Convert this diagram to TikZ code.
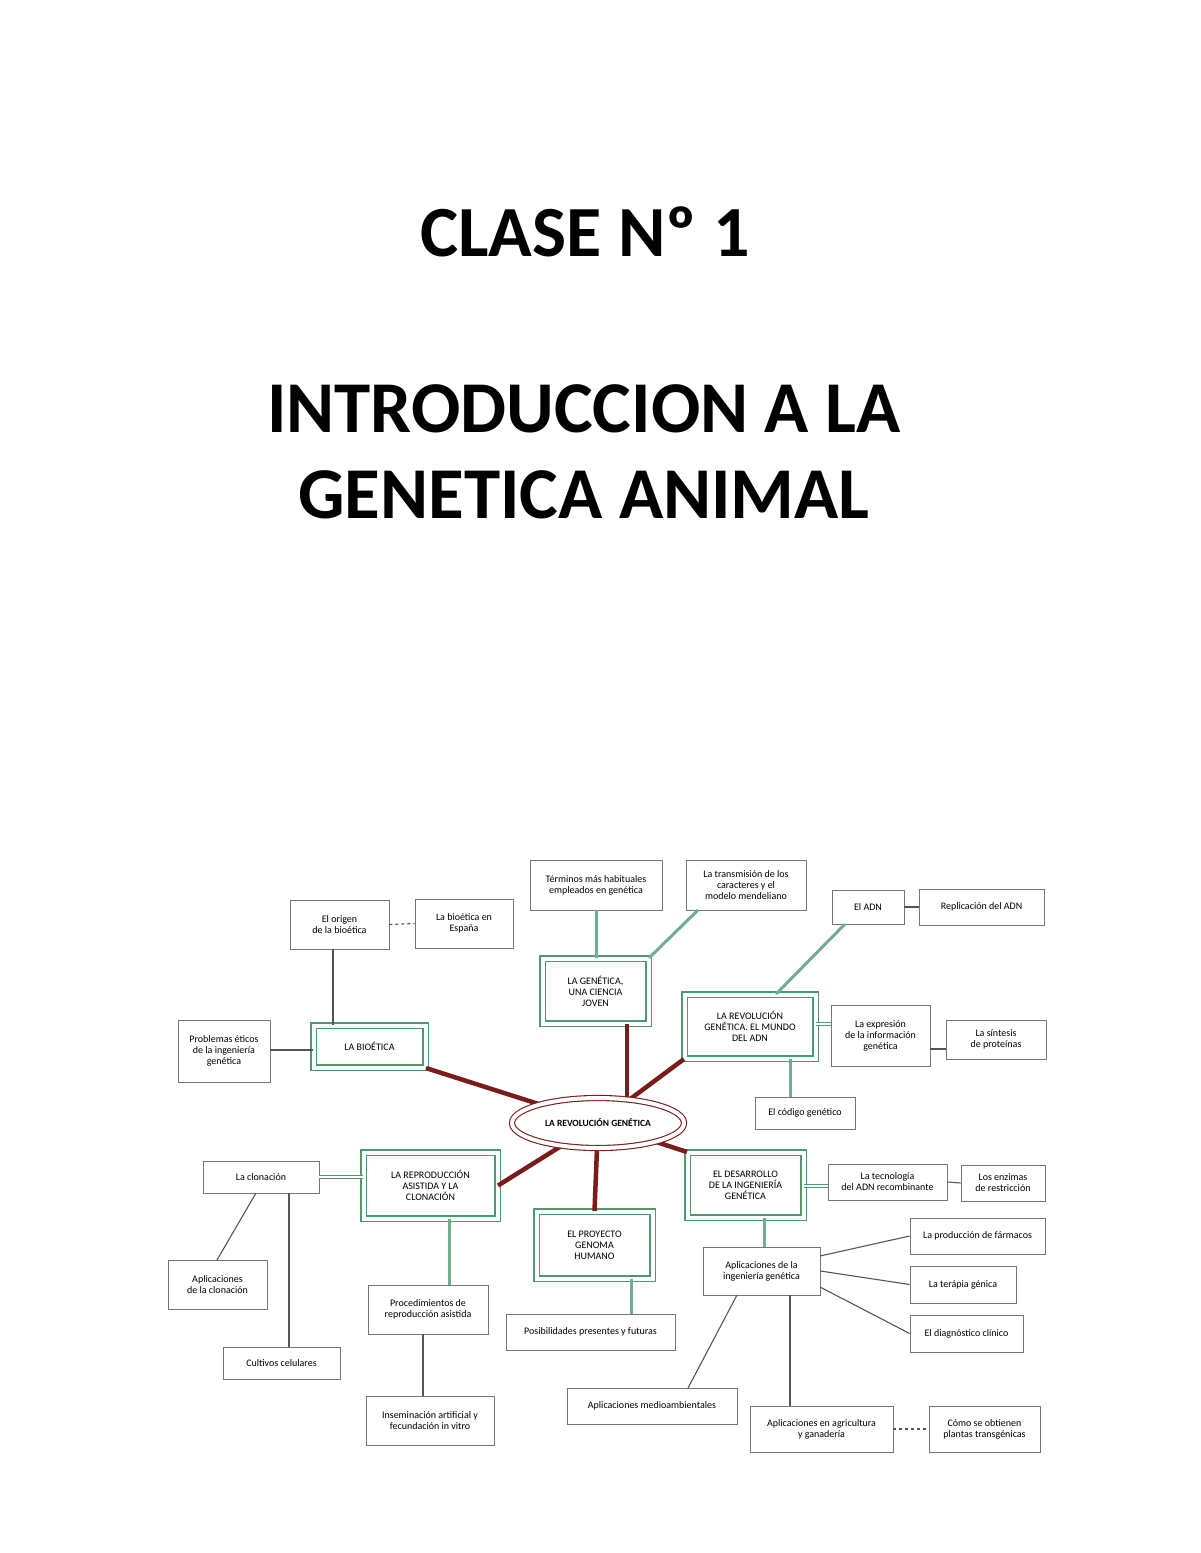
\documentclass[tikz,border=0pt]{standalone}
\usepackage{fontspec}
\setmainfont{Carlito}
\usetikzlibrary{shapes.geometric}
\definecolor{gr}{HTML}{4E9A70}
\definecolor{dr}{HTML}{7A1C1C}
\definecolor{ln}{HTML}{555555}
\begin{document}
\begin{tikzpicture}[x=1pt,y=-1pt,
  bx/.style={draw=ln!80,line width=0.8pt,align=center,font=\fontsize{10}{11}\selectfont,inner sep=2pt},
  mb/.style={draw=gr,line width=1.1pt,double=white,double distance=4pt,align=center,font=\fontsize{10}{11}\selectfont,inner sep=2pt},
  rl/.style={dr,line width=4.5pt},
  gl/.style={gr!80,line width=3pt},
  dg/.style={gr,line width=0.9pt,double=white,double distance=2pt},
  kl/.style={ln,line width=1.1pt}]
\useasboundingbox (0,0) rectangle (1200,1553);
\node[font=\bfseries\fontsize{72}{80}\selectfont] at (585,232) {CLASE Nº 1};
\node[font=\bfseries\fontsize{73}{86}\selectfont,align=center] at (584,452) {INTRODUCCION A LA\\GENETICA ANIMAL};
% simple boxes
\node[bx,minimum width=132,minimum height=50] (term) at (596,885) {Términos más habituales\\empleados en genética};
\node[bx,minimum width=120,minimum height=50] (trans) at (746,885) {La transmisión de los\\caracteres y el\\modelo mendeliano};
\node[bx,minimum width=99,minimum height=49] (orig) at (339.5,924.5) {El origen\\de la bioética};
\node[bx,minimum width=98,minimum height=49] (esp) at (464,923.5) {La bioética en\\España};
\node[bx,minimum width=92,minimum height=62] (prob) at (224,1051) {Problemas éticos\\de la ingeniería\\genética};
\node[bx,minimum width=72,minimum height=34] (adn) at (868,907) {El ADN};
\node[bx,minimum width=125,minimum height=36] (repl) at (981.5,907) {Replicación del ADN};
\node[bx,minimum width=99,minimum height=61] (expr) at (880.5,1035.5) {La expresión\\de la información\\genética};
\node[bx,minimum width=100,minimum height=39] (sint) at (996,1039.5) {La síntesis\\de proteínas};
\node[bx,minimum width=100,minimum height=32] (cod) at (805,1113) {El código genético};
\node[bx,minimum width=116,minimum height=32] (clon) at (261,1177) {La clonación};
\node[bx,minimum width=99,minimum height=49] (aclon) at (217.5,1284.5) {Aplicaciones\\de la clonación};
\node[bx,minimum width=117,minimum height=32] (cult) at (281.5,1363) {Cultivos celulares};
\node[bx,minimum width=120,minimum height=49] (proc) at (428,1309.5) {Procedimientos de\\reproducción asistida};
\node[bx,minimum width=128,minimum height=49] (ins) at (430,1420.5) {Inseminación artificial y\\fecundación in vitro};
\node[bx,minimum width=169,minimum height=36] (pos) at (590.5,1332) {Posibilidades presentes y futuras};
\node[bx,minimum width=119,minimum height=36] (tec) at (887.5,1182) {La tecnología\\del ADN recombinante};
\node[bx,minimum width=84,minimum height=36] (enz) at (1003,1183) {Los enzimas\\de restricción};
\node[bx,minimum width=117,minimum height=48] (aig) at (761.5,1271) {Aplicaciones de la\\ingeniería genética};
\node[bx,minimum width=135,minimum height=36] (farm) at (977.5,1236) {La producción de fármacos};
\node[bx,minimum width=106,minimum height=37] (ter) at (963,1284.5) {La terápia génica};
\node[bx,minimum width=113,minimum height=37] (diag) at (966.5,1333.5) {El diagnóstico clínico};
\node[bx,minimum width=170,minimum height=36] (med) at (652,1406) {Aplicaciones medioambientales};
\node[bx,minimum width=143,minimum height=46] (agr) at (821.5,1429) {Aplicaciones en agricultura\\y ganadería};
\node[bx,minimum width=111,minimum height=46] (como) at (984.5,1429) {Cómo se obtienen\\plantas transgénicas};
% main boxes
\node[mb,minimum width=112,minimum height=42] (bio) at (369.5,1046.5) {LA BIOÉTICA};
\node[mb,minimum width=106,minimum height=65] (gen) at (595.5,991) {LA GENÉTICA,\\UNA CIENCIA\\JOVEN};
\node[mb,minimum width=131,minimum height=64] (rev) at (750,1026.5) {LA REVOLUCIÓN\\GENÉTICA. EL MUNDO\\DEL ADN};
\node[mb,minimum width=134,minimum height=66] (rep) at (430.5,1185.5) {LA REPRODUCCIÓN\\ASISTIDA Y LA\\CLONACIÓN};
\node[mb,minimum width=116,minimum height=67] (proy) at (594.5,1245) {EL PROYECTO\\GENOMA\\HUMANO};
\node[mb,minimum width=116,minimum height=65] (des) at (745.5,1185) {EL DESARROLLO\\DE LA INGENIERÍA\\GENÉTICA};
\coordinate (cc) at (598,1123);
% red connectors
\draw[rl] (cc) -- (bio.south east);
\draw[rl] (627,1110) -- (gen.south -| 627,0);
\draw[rl] (cc) -- (rev.south west);
\draw[rl] (cc) -- (rep.east);
\draw[rl] (cc) -- (proy.north);
\draw[rl] (cc) -- (des.north west);
\node[ellipse,draw=dr,line width=1.1pt,double=white,double distance=4pt,minimum width=172,minimum height=50,inner sep=0pt,font=\bfseries\fontsize{9.5}{11}\selectfont,fill=white] (cen) at (cc) {LA REVOLUCIÓN GENÉTICA};
% green connectors
\draw[gl] (term.south) -- (term.south |- gen.north);
\coordinate (t1) at (698,910);
\draw[gl] (t1) -- (gen.north east);
\coordinate (a1) at (845,924);
\coordinate (a2) at (776,994);
\draw[gl] (a1) -- (a2);
\draw[gl] (cod.north -| 790,0) -- (rev.south -| 790,0);
\draw[gl] (proc.north -| 449,0) -- (rep.south -| 449,0);
\draw[gl] (pos.north -| 631,0) -- (proy.south -| 631,0);
\draw[gl] (aig.north -| 764,0) -- (des.south -| 764,0);
\draw[dg] (clon.east) -- (clon.east -| rep.west);
\draw[dg] (expr.west |- 0,1024) -- (rev.east |- 0,1024);
\draw[dg] (tec.west |- 0,1186) -- (des.east |- 0,1186);
% black connectors
\draw[kl] (orig.south -| 333,0) -- (bio.north -| 333,0);
\draw[kl,dashed] (orig.east) -- (esp.west);
\draw[kl] (prob.east |- 0,1050) -- (bio.west |- 0,1050);
\draw[kl] (adn.east) -- (repl.west);
\draw[kl] (expr.east |- 0,1049) -- (sint.west |- 0,1049);
\draw[kl] (tec.east) -- (enz.west);
\draw[kl] (256,1193) -- (217,1260);
\draw[kl] (289,1193) -- (289,1347);
\draw[kl] (423,1334) -- (423,1396);
\draw[kl] (820,1256) -- (farm.west);
\draw[kl] (aig.east) -- (ter.west);
\draw[kl] (820,1287) -- (diag.west);
\draw[kl] (737,1295) -- (688,1388);
\draw[kl] (790,1295) -- (790,1406);
\draw[kl,dashed] (agr.east) -- (como.west);
\end{tikzpicture}
\end{document}
